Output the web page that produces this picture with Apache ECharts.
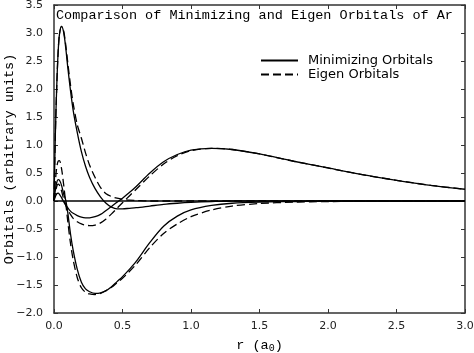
<!DOCTYPE html>
<html>
<head>
<meta charset="utf-8">
<script src="https://cdn.jsdelivr.net/npm/echarts@6/dist/echarts.min.js"></script>
<style>
html,body{margin:0;padding:0;background:#fff;}
#chart{width:474px;height:353px;}
</style>
</head>
<body>
<div id="chart"></div>
<script>
// r values (a0) shared by all curves
const rGrid = [0, 0.01, 0.02, 0.03, 0.04, 0.055, 0.07, 0.085, 0.1, 0.12, 0.14, 0.17, 0.2, 0.23, 0.26, 0.3, 0.34, 0.38, 0.42, 0.46, 0.5, 0.55, 0.6, 0.7, 0.8, 0.9, 1.0, 1.15, 1.3, 1.5, 1.75, 2.0, 2.25, 2.5, 2.75, 3.0];

// Minimizing orbitals (solid)
const min1s = [0, 1.2, 2.05, 2.65, 2.98, 3.12, 3.02, 2.75, 2.4, 1.98, 1.62, 1.22, 0.88, 0.62, 0.42, 0.22, 0.07, -0.04, -0.11, -0.14, -0.14, -0.13, -0.12, -0.09, -0.06, -0.04, -0.025, -0.01, 0, 0, 0, 0, 0, 0, 0, 0];
const min2s = [0, 0.2, 0.33, 0.38, 0.37, 0.28, 0.13, 0.02, -0.2, -0.58, -0.88, -1.22, -1.45, -1.57, -1.62, -1.65, -1.64, -1.6, -1.53, -1.44, -1.35, -1.22, -1.08, -0.74, -0.45, -0.27, -0.16, -0.08, -0.04, -0.02, -0.01, 0, 0, 0, 0, 0];
const min3s = [0, 0.08, 0.13, 0.14, 0.12, 0.06, -0.01, -0.07, -0.12, -0.18, -0.22, -0.26, -0.29, -0.3, -0.3, -0.28, -0.24, -0.17, -0.1, -0.02, 0.05, 0.15, 0.26, 0.5, 0.7, 0.83, 0.91, 0.94, 0.92, 0.84, 0.71, 0.59, 0.47, 0.37, 0.28, 0.21];

// Eigen orbitals (dashed)
const eig1s = [0, 1.2, 2.05, 2.65, 2.98, 3.12, 3.04, 2.8, 2.48, 2.08, 1.74, 1.36, 1.12, 0.86, 0.64, 0.42, 0.24, 0.13, 0.08, 0.05, 0.03, 0.015, 0.01, 0, 0, 0, 0, 0, 0, 0, 0, 0, 0, 0, 0, 0];
const eig2s = [0, 0.35, 0.6, 0.71, 0.72, 0.58, 0.3, -0.02, -0.35, -0.75, -1.05, -1.37, -1.55, -1.63, -1.66, -1.67, -1.65, -1.6, -1.54, -1.46, -1.38, -1.26, -1.13, -0.83, -0.58, -0.41, -0.28, -0.16, -0.09, -0.045, -0.02, -0.01, -0.005, 0, 0, 0];
const eig3s = [0, 0.15, 0.26, 0.3, 0.28, 0.18, 0.04, -0.07, -0.15, -0.24, -0.31, -0.37, -0.41, -0.43, -0.44, -0.43, -0.39, -0.32, -0.23, -0.13, -0.03, 0.09, 0.21, 0.45, 0.66, 0.81, 0.9, 0.94, 0.92, 0.84, 0.71, 0.59, 0.47, 0.37, 0.28, 0.21];

const legendNames = ['Minimizing Orbitals', 'Eigen Orbitals'];
const titleText = 'Comparison of Minimizing and Eigen Orbitals of Ar';

function pairs(ys) { return rGrid.map((r, i) => [r, ys[i]]); }

const mono = 'Liberation Mono';
const sans = 'DejaVu Sans';
const axisCol = '#333';

function mkSeries(name, ys, dashed) {
  return {
    type: 'line', name: name, data: pairs(ys), smooth: 0.3,
    showSymbol: false, symbol: 'none', xAxisIndex: 0, yAxisIndex: 0,
    lineStyle: { color: '#000', width: 1.3, type: dashed ? [8, 4] : 'solid' },
    itemStyle: { color: '#000' }, animation: false
  };
}

const series = [
  mkSeries(legendNames[0], min1s, false),
  mkSeries(legendNames[0], min2s, false),
  mkSeries(legendNames[0], min3s, false),
  mkSeries(legendNames[1], eig1s, true),
  mkSeries(legendNames[1], eig2s, true),
  mkSeries(legendNames[1], eig3s, true)
];
series[0].markLine = {
  silent: true, symbol: ['none', 'none'], label: { show: false },
  lineStyle: { color: '#000', width: 1.5, type: 'solid' },
  data: [{ yAxis: 0 }], animation: false
};

const fmt = v => (v < 0 ? '\u2212' : '') + Math.abs(v).toFixed(1);

const chart = echarts.init(document.getElementById('chart'), null, { renderer: 'canvas' });
chart.setOption({
  animation: false,
  backgroundColor: '#fff',
  title: {
    text: titleText, left: 56, top: 8, padding: 0,
    textStyle: { fontFamily: mono, fontSize: 13.5, fontWeight: 'normal', color: '#000' }
  },
  legend: {
    data: legendNames, orient: 'vertical', left: 260, top: 54,
    itemWidth: 37, itemHeight: 14, itemGap: 1, padding: 0,
    itemStyle: { opacity: 0 },
    textStyle: { fontFamily: sans, fontSize: 13, color: '#000', padding: [0, 0, 0, 5] }
  },
  grid: { left: 54, right: 9, top: 5, bottom: 40, containLabel: false, outerBoundsMode: 'none' },
  xAxis: [
    {
      type: 'value', min: 0, max: 3, interval: 0.5, position: 'bottom',
      name: '{a|r (a}{s|0}{a|)}', nameLocation: 'middle', nameGap: 24, nameMoveOverlap: false,
      nameTextStyle: { rich: {
        a: { fontFamily: mono, fontSize: 13.5, color: '#000' },
        s: { fontFamily: mono, fontSize: 10, color: '#000', verticalAlign: 'bottom', padding: [6, 0, 0, 0] }
      } },
      axisLine: { show: true, onZero: false, lineStyle: { color: axisCol, width: 1.5 } },
      axisTick: { show: true, inside: true, length: 4, lineStyle: { color: axisCol } },
      axisLabel: { margin: 8, fontFamily: sans, fontSize: 11, color: '#222', formatter: fmt },
      splitLine: { show: false }
    },
    {
      type: 'value', min: 0, max: 3, interval: 0.5, position: 'top',
      axisLine: { show: true, onZero: false, lineStyle: { color: axisCol, width: 1.5 } },
      axisTick: { show: true, inside: true, length: 4, lineStyle: { color: axisCol } },
      axisLabel: { show: false }, splitLine: { show: false }
    }
  ],
  yAxis: [
    {
      type: 'value', min: -2, max: 3.5, interval: 0.5, position: 'left',
      name: 'Orbitals (arbitrary units)', nameLocation: 'middle', nameGap: 38, nameRotate: 90,
      nameMoveOverlap: false,
      nameTextStyle: { fontFamily: mono, fontSize: 13.5, color: '#000' },
      axisLine: { show: true, onZero: false, lineStyle: { color: axisCol, width: 1.5 } },
      axisTick: { show: true, inside: true, length: 4, lineStyle: { color: axisCol } },
      axisLabel: { margin: 11, fontFamily: sans, fontSize: 11, color: '#222', formatter: fmt },
      splitLine: { show: false }
    },
    {
      type: 'value', min: -2, max: 3.5, interval: 0.5, position: 'right',
      axisLine: { show: true, onZero: false, lineStyle: { color: axisCol, width: 1.5 } },
      axisTick: { show: true, inside: true, length: 4, lineStyle: { color: axisCol } },
      axisLabel: { show: false }, splitLine: { show: false }
    }
  ],
  series: series
});
</script>
</body>
</html>
